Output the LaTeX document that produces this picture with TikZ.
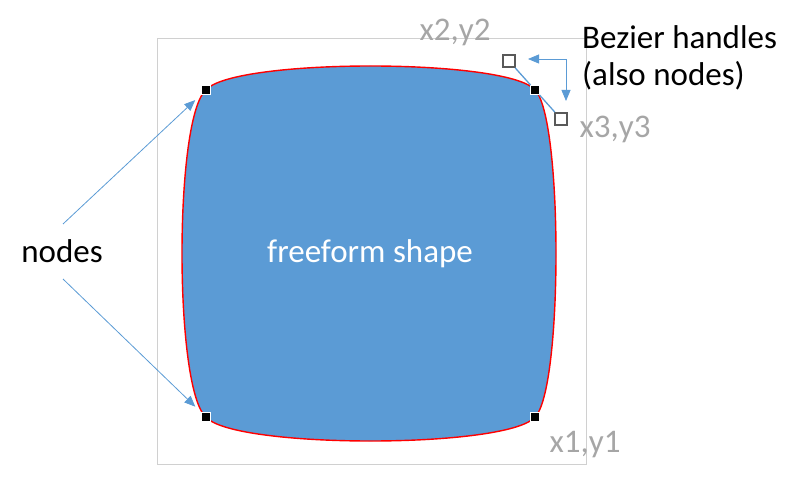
\documentclass[tikz,border=0pt]{standalone}
\usepackage{fontspec}
\setmainfont{Carlito}
\usetikzlibrary{arrows.meta}
\definecolor{shapeblue}{HTML}{5B9BD5}
\definecolor{labelgray}{HTML}{A6A6A6}
\definecolor{framegray}{HTML}{D0D0D0}
\begin{document}
\begin{tikzpicture}[x=1pt,y=-1pt]

    \tikzstyle{corner}=[rectangle,fill=black,draw=white,line width=0.8pt,inner sep=0pt,minimum size=9pt]
    \tikzstyle{handle}=[rectangle,fill=white,draw=black!65,line width=1.8pt,inner sep=0pt,minimum size=12pt]
    \tikzstyle{pointer}=[draw=shapeblue,line width=0.8pt]
    \tikzstyle{txt}=[inner sep=0pt,anchor=base,font=\fontsize{33}{37}\selectfont]

    \useasboundingbox (0,0) rectangle (800,481);

    \draw[draw=framegray, line width=0.8pt] (157,38) rectangle (586,464);

    \coordinate (p0) at (206,90);
    \coordinate (p1) at (535,90);
    \coordinate (p2) at (535,417);
    \coordinate (p3) at (206,417);

    \filldraw[fill=shapeblue, draw=red, line width=1.4pt]
        (p0) .. controls (233,58)  and (508,58)  .. (p1)
             .. controls (563,117) and (563,390) .. (p2)
             .. controls (508,449) and (233,449) .. (p3)
             .. controls (174,390) and (174,117) .. cycle;

    \node[handle] (h2) at (509,61)  {};
    \node[handle] (h3) at (561,119) {};
    \node[corner] (c0) at (p0) {};
    \node[corner] (c1) at (p1) {};
    \node[corner] (c2) at (p2) {};
    \node[corner] (c3) at (p3) {};

    \draw[draw=shapeblue, line width=1.3pt] (h2) -- (c1) -- (h3);

    \coordinate (nt) at (63,224);
    \coordinate (nb) at (63,279);
    \draw[pointer, -{Triangle[length=11pt,width=9pt]}, shorten >=8pt] (nt) -- (c0);
    \draw[pointer, -{Triangle[length=11pt,width=9pt]}, shorten >=8pt] (nb) -- (c3);

    \coordinate (hl) at (528,59);
    \coordinate (hd) at (566,101);
    \draw[pointer, {Triangle[length=11pt,width=9pt]}-{Triangle[length=11pt,width=9pt]}] (hl) -| (hd);

    \node[txt] (nodeslbl) at (62,262) {nodes};
    \node[txt, text=white] (shapelbl) at (370,262) {freeform shape};
    \node[txt, text=labelgray] (xy2) at (455,41)  {x2,y2};
    \node[txt, text=labelgray] (xy3) at (615,138) {x3,y3};
    \node[txt, text=labelgray] (xy1) at (585,452) {x1,y1};
    \node[txt, anchor=base west] (hlbla) at (582,49) {Bezier handles};
    \node[txt, anchor=base west] (hlblb) at (582,86) {(also nodes)};

\end{tikzpicture}
\end{document}
